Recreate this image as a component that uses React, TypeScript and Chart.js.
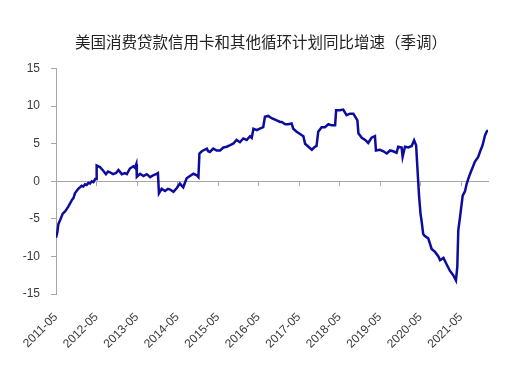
import React, { useEffect, useRef } from "react";
import { Chart, registerables } from "chart.js";

Chart.register(...registerables);

const titleText = "美国消费贷款信用卡和其他循环计划同比增速（季调）";

// months since 2011-05
const tickMonths = [0, 12, 24, 36, 48, 60, 72, 84, 96, 108, 120];
const tickLabels = [
  "2011-05", "2012-05", "2013-05", "2014-05", "2015-05", "2016-05",
  "2017-05", "2018-05", "2019-05", "2020-05", "2021-05",
];

const months = [
  0, 0.4, 0.7, 1.2, 2.0, 2.7, 3.6, 4.7, 5.2, 5.6, 6.6, 7.1, 7.6, 8.1, 8.6, 9.1, 9.6, 10.1, 10.6, 11.1, 11.6, 11.9,
  12.05, 13.0, 14.0, 14.8, 15.4, 16.0, 16.9, 17.8, 18.5, 19.5, 20.4, 21.0, 21.9, 22.9, 23.4, 23.8,
  23.95, 24.9, 25.9, 26.9, 27.9, 28.8, 29.8, 30.2,
  30.5, 31.3, 32.3, 33.2, 33.8, 34.8, 35.8, 36.7, 37.7, 38.7, 39.7, 40.7, 41.7, 42.2,
  42.5, 43.2, 43.6, 44.7, 45.1, 45.6, 46.6, 47.6, 48.6, 49.6, 50.6, 51.6, 52.5, 53.5, 54.5, 55.5, 56.5, 57.5, 58.0,
  58.5, 59.5, 60.4, 61.4, 61.9, 62.9, 63.9, 65.4, 66.4, 66.9, 67.9, 68.8, 69.8, 70.3, 71.3, 72.3, 73.3,
  73.8, 74.8, 75.8, 76.7, 77.2, 77.7, 78.7, 79.7, 80.7, 81.7, 82.7, 83.0, 84.1, 85.1, 86.1, 87.1, 88.1, 88.9, 89.3,
  89.6, 90.6, 91.6, 92.5, 93.5, 94.5, 94.8, 96.0, 97.0, 98.0, 99.0, 99.9, 100.9, 101.4, 102.4, 102.7, 103.4, 104.4,
  105.4, 106.1, 106.7, 107.3, 107.6, 108.0, 108.3, 108.8, 109.3, 110.3, 111.3, 112.3, 113.3, 113.8, 114.8, 115.8,
  116.7, 117.7, 118.5, 118.9, 119.2, 119.7, 120.5, 121.2, 121.7, 122.2, 122.7, 123.5, 124.1, 125.1, 125.6, 126.4,
  127.1, 127.6, 128.0,
];

const growth = [
  -7.5, -6.8, -5.7, -5.2, -4.3, -4.0, -3.4, -2.5, -2.2, -1.6, -1.0, -0.8, -0.6, -0.7, -0.4, -0.5, -0.2, -0.3, 0.0, -0.1, 0.3, 0.3,
  2.1, 1.9, 1.4, 0.95, 1.3, 1.2, 0.95, 1.1, 1.5, 0.95, 1.1, 0.95, 1.7, 2.0, 1.8, 2.3,
  0.6, 1.0, 0.7, 0.95, 0.55, 0.8, 1.0, 1.1,
  -1.6, -1.0, -1.3, -1.0, -1.1, -1.4, -0.9, -0.3, -0.8, 0.4, 0.7, 1.0, 0.8, 0.55,
  3.7, 4.0, 4.1, 4.35, 4.0, 3.9, 4.35, 4.1, 4.1, 4.5, 4.6, 4.8, 5.0, 5.5, 5.2, 5.7, 5.5, 6.0, 5.8,
  7.0, 6.8, 7.0, 7.2, 8.6, 8.7, 8.4, 8.1, 7.9, 7.9, 7.6, 7.6, 7.7, 7.0, 6.6, 6.3, 6.0,
  5.0, 4.6, 4.2, 4.6, 4.7, 6.6, 7.2, 7.2, 7.6, 7.45, 7.45, 9.45, 9.45, 9.55, 8.8, 9.0, 9.0, 8.4, 8.1,
  6.4, 5.8, 5.5, 5.1, 5.8, 6.0, 4.1, 4.2, 4.0, 3.7, 4.1, 4.0, 3.8, 4.6, 4.5, 3.25, 4.6, 4.5,
  4.7, 5.45, 4.8, 0.1, -2.1, -4.3, -5.2, -7.0, -7.3, -7.6, -9.0, -9.4, -10.0, -10.5, -10.2, -11.1,
  -11.9, -12.5, -13.2, -11.4, -6.5, -4.8, -1.9, -1.3, -0.3, 0.4, 1.0, 1.9, 2.6, 3.25, 3.9, 4.8,
  6.1, 6.6, 6.8,
];

const yMin = -15;
const yMax = 15;
const yStep = 5;

const LINE_COLOR = "#0c0c9e";
const AXIS_COLOR = "#a6a6a6";
const TEXT_COLOR = "#3a3a3a";
const TICK_FONT = { family: "'Liberation Sans', Arial, sans-serif", size: 12 };

export default function App() {
  const ref = useRef<HTMLCanvasElement | null>(null);

  useEffect(() => {
    if (!ref.current) return;
    const setTicks = (axis: any) => {
      axis.ticks = tickMonths.map((v) => ({ value: v }));
    };
    const chart = new Chart(ref.current, {
      type: "line",
      data: {
        datasets: [
          {
            data: months.map((m, i) => ({ x: m, y: growth[i] })),
            borderColor: LINE_COLOR,
            borderWidth: 2.5,
            pointRadius: 0,
            tension: 0,
            fill: false,
          },
        ],
      },
      options: {
        responsive: false,
        animation: false,
        layout: { padding: 0 },
        plugins: {
          legend: { display: false },
          tooltip: { enabled: false },
          title: {
            display: true,
            text: titleText,
            color: "#222",
            font: { family: "'Noto Sans CJK SC', sans-serif", size: 15.5, weight: "normal", lineHeight: 1.2 },
            padding: { top: 33, bottom: 17 },
          },
        },
        scales: {
          x: {
            type: "linear",
            position: "bottom",
            min: 0,
            max: 128,
            afterBuildTicks: setTicks,
            afterFit: (s: any) => {
              s.height = 72;
            },
            grid: { display: false, drawTicks: false },
            border: { display: false },
            ticks: {
              autoSkip: false,
              maxRotation: 45,
              minRotation: 45,
              padding: 16,
              color: TEXT_COLOR,
              font: TICK_FONT,
              callback: (_v: any, i: number) => tickLabels[i],
            },
          },
          x2: {
            type: "linear",
            position: { y: 0 } as any,
            min: 0,
            max: 128,
            afterBuildTicks: setTicks,
            grid: { display: true, drawOnChartArea: false, drawTicks: true, tickLength: 4, color: AXIS_COLOR },
            border: { display: true, color: AXIS_COLOR, width: 1 },
            ticks: { display: false },
          },
          y: {
            type: "linear",
            position: "left",
            min: yMin,
            max: yMax,
            afterFit: (s: any) => {
              s.width = 56;
            },
            grid: { display: true, drawOnChartArea: false, drawTicks: true, tickLength: 5, color: AXIS_COLOR },
            border: { display: true, color: AXIS_COLOR, width: 1 },
            ticks: {
              stepSize: yStep,
              padding: 11,
              color: TEXT_COLOR,
              font: TICK_FONT,
            },
          },
          yRight: {
            type: "linear",
            position: "right",
            min: yMin,
            max: yMax,
            afterFit: (s: any) => {
              s.width = 34;
            },
            grid: { display: false, drawTicks: false },
            border: { display: false },
            ticks: { display: false },
          },
        },
      },
    });
    return () => chart.destroy();
  }, []);

  return (
    <div style={{ position: "fixed", left: 0, top: 0, width: 522, height: 366, background: "#fff" }}>
      <canvas ref={ref} width={522} height={366} />
    </div>
  );
}
